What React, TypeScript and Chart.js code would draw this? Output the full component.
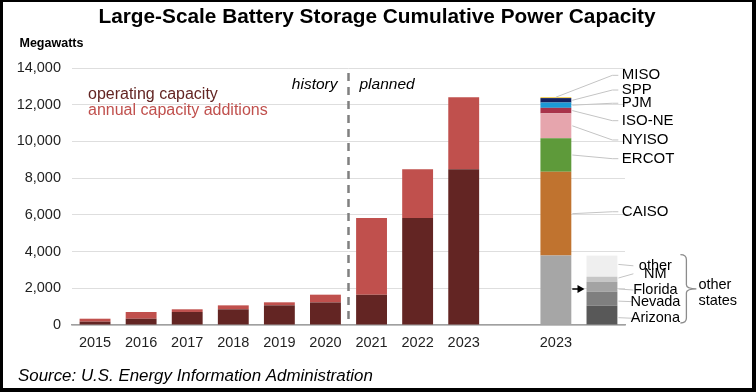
import React, { useEffect, useRef } from 'react';
import { Chart, registerables } from 'chart.js';

Chart.register(...registerables);

// ---------- data ----------
const categories = ['2015', '2016', '2017', '2018', '2019', '2020', '2021', '2022', '2023', '', '2023', ''];
const operatingCapacity = [180, 343, 710, 855, 1070, 1230, 1645, 5830, 8480];
const annualAdditions = [163, 365, 145, 215, 166, 422, 4185, 2650, 3920];

const regionNames = ['other states', 'CAISO', 'ERCOT', 'NYISO', 'ISO-NE', 'PJM', 'SPP', 'MISO'];
const regionValues = [3780, 4570, 1820, 1360, 300, 290, 240, 50];

const stateNames = ['Arizona', 'Nevada', 'Florida', 'NM', 'other'];
const stateValues = [1050, 765, 545, 270, 1150];

const yMax = 14000;
const yStep = 2000;

// ---------- styles ----------
const FONT = '"Liberation Sans", Arial, Helvetica, sans-serif';
const operatingColor = '#632523';
const additionsColor = '#c0504d';
const regionColors = ['#a6a6a6', '#c0732f', '#5e9a3a', '#e6a5ad', '#a8334a', '#1b9ad6', '#13205e', '#f2c93c'];
const stateColors = ['#585858', '#7f7f7f', '#a3a3a3', '#c6c6c6', '#efefef'];

const REGION_SLOT = 10;
const STATE_SLOT = 11;

// annotation layout (label anchor heights in MW)
const regionLabelLayout: Record<string, number> = {
  MISO: 13600, SPP: 12800, PJM: 12080, 'ISO-NE': 11130, NYISO: 10080, ERCOT: 9060, CAISO: 6170,
};
const stateLabelLayout: Record<string, [number, number]> = {
  other: [3300, 3225], NM: [2560, 2790], Florida: [1960, 1907], Nevada: [1300, 1269], Arizona: [400, 365],
};

const annotationPlugin = {
  id: 'annotations',
  afterDraw(chart: any) {
    const { ctx, scales, chartArea } = chart;
    const x = scales.x;
    const y = scales.y;
    ctx.save();

    // Title
    ctx.fillStyle = '#000';
    ctx.textAlign = 'center';
    ctx.textBaseline = 'alphabetic';
    ctx.font = `bold 20.8px ${FONT}`;
    ctx.fillText('Large-Scale Battery Storage Cumulative Power Capacity', 374, 20.5);

    // Unit label
    ctx.textAlign = 'left';
    ctx.font = `bold 12.5px ${FONT}`;
    ctx.fillText('Megawatts', 16.5, 45);

    // Legend text
    ctx.textBaseline = 'middle';
    ctx.font = `16px ${FONT}`;
    ctx.fillStyle = operatingColor;
    ctx.fillText('operating capacity', 85, 93);
    ctx.fillStyle = additionsColor;
    ctx.fillText('annual capacity additions', 85, 109);

    // history / planned divider
    const divX = (x.getPixelForValue(5) + x.getPixelForValue(6)) / 2;
    ctx.strokeStyle = '#808080';
    ctx.lineWidth = 2.5;
    ctx.setLineDash([8, 6]);
    ctx.beginPath();
    ctx.moveTo(divX, y.getPixelForValue(13730));
    ctx.lineTo(divX, chartArea.bottom);
    ctx.stroke();
    ctx.setLineDash([]);

    ctx.fillStyle = '#000';
    ctx.font = `italic 15.5px ${FONT}`;
    ctx.textBaseline = 'alphabetic';
    ctx.textAlign = 'right';
    ctx.fillText('history', divX - 11, 87);
    ctx.textAlign = 'left';
    ctx.fillText('planned', divX + 11, 87);

    // Region labels with leader lines
    const regionStart = 2;
    const bigEl = chart.getDatasetMeta(regionStart + 1).data[REGION_SLOT];
    const bigRight = bigEl.x + bigEl.width / 2;
    ctx.strokeStyle = '#c4c4c4';
    ctx.lineWidth = 1;
    ctx.font = `15px ${FONT}`;
    ctx.textBaseline = 'middle';
    ctx.textAlign = 'left';
    regionNames.forEach((name, r) => {
      const lv = regionLabelLayout[name];
      if (lv === undefined) return;
      const el = chart.getDatasetMeta(regionStart + r).data[REGION_SLOT];
      let sx: number, sy: number;
      if (name === 'MISO') {
        sx = el.x;
        sy = el.y;
      } else {
        sx = el.x + el.width / 2 + 1;
        sy = (el.y + el.base) / 2;
      }
      const ly = y.getPixelForValue(lv);
      ctx.beginPath();
      ctx.moveTo(sx, sy);
      ctx.lineTo(bigRight + 41, ly);
      ctx.lineTo(bigRight + 47, ly);
      ctx.stroke();
      ctx.fillStyle = '#000';
      ctx.fillText(name, bigRight + 50.5, ly);
    });

    // State labels
    const stateStart = regionStart + regionNames.length;
    const smallEl = chart.getDatasetMeta(stateStart).data[STATE_SLOT];
    const smallRight = smallEl.x + smallEl.width / 2;
    const smallLeft = smallEl.x - smallEl.width / 2;
    ctx.font = `14.5px ${FONT}`;
    ctx.textAlign = 'center';
    stateNames.forEach((name) => {
      const [av, lv] = stateLabelLayout[name];
      const ay = y.getPixelForValue(av);
      const ly = y.getPixelForValue(lv);
      ctx.beginPath();
      ctx.moveTo(smallRight + 1, ay);
      ctx.lineTo(smallRight + 16, ly);
      ctx.stroke();
      ctx.fillStyle = '#000';
      ctx.fillText(name, smallRight + 38, ly);
    });

    // Bracket
    const bTop = y.getPixelForValue(stateValues.reduce((a, b) => a + b, 0)) - 1;
    const bBot = y.getPixelForValue(0) - 2;
    const bMid = (bTop + bBot) / 2;
    const bx0 = smallRight + 63;
    const bx1 = smallRight + 69;
    const bTip = smallRight + 79;
    ctx.strokeStyle = '#8c8c8c';
    ctx.lineWidth = 1.3;
    ctx.beginPath();
    ctx.moveTo(bx0, bTop);
    ctx.quadraticCurveTo(bx1, bTop, bx1, bTop + 5);
    ctx.lineTo(bx1, bMid - 4);
    ctx.quadraticCurveTo(bx1, bMid, bTip, bMid);
    ctx.moveTo(bTip, bMid);
    ctx.quadraticCurveTo(bx1, bMid, bx1, bMid + 4);
    ctx.lineTo(bx1, bBot - 5);
    ctx.quadraticCurveTo(bx1, bBot, bx0, bBot);
    ctx.stroke();

    ctx.fillStyle = '#000';
    ctx.textAlign = 'left';
    ctx.font = `14.5px ${FONT}`;
    ctx.fillText('other', smallRight + 81, bMid - 4);
    ctx.fillText('states', smallRight + 81, bMid + 12);

    // Arrow
    const ay = y.getPixelForValue(1960);
    const ax0 = bigRight + 1;
    const ax1 = smallLeft - 2;
    ctx.strokeStyle = '#000';
    ctx.fillStyle = '#000';
    ctx.lineWidth = 1.5;
    ctx.beginPath();
    ctx.moveTo(ax0, ay);
    ctx.lineTo(ax1 - 5, ay);
    ctx.stroke();
    ctx.beginPath();
    ctx.moveTo(ax1, ay);
    ctx.lineTo(ax1 - 7, ay - 4);
    ctx.lineTo(ax1 - 7, ay + 4);
    ctx.closePath();
    ctx.fill();

    // Source
    ctx.textAlign = 'left';
    ctx.textBaseline = 'middle';
    ctx.font = `italic 16.9px ${FONT}`;
    ctx.fillStyle = '#000';
    ctx.fillText('Source: U.S. Energy Information Administration', 15, 374.5);

    ctx.restore();
  },
};

export default function App() {
  const canvasRef = useRef<HTMLCanvasElement | null>(null);

  useEffect(() => {
    document.body.style.margin = '0';
    const canvas = canvasRef.current;
    if (!canvas) return;

    const slotData = (slot: number, v: number) => categories.map((_, i) => (i === slot ? v : null));

    const datasets: any[] = [
      {
        label: 'operating capacity',
        data: categories.map((_, i) => (i < operatingCapacity.length ? operatingCapacity[i] : null)),
        backgroundColor: operatingColor,
      },
      {
        label: 'annual capacity additions',
        data: categories.map((_, i) => (i < annualAdditions.length ? annualAdditions[i] : null)),
        backgroundColor: additionsColor,
      },
      ...regionNames.map((name, r) => ({
        label: name,
        data: slotData(REGION_SLOT, regionValues[r]),
        backgroundColor: regionColors[r],
      })),
      ...stateNames.map((name, s) => ({
        label: name,
        data: slotData(STATE_SLOT, stateValues[s]),
        backgroundColor: stateColors[s],
      })),
    ].map((d) => ({ ...d, stack: 'all', borderWidth: 0, barPercentage: 0.67, categoryPercentage: 1 }));

    const chart = new Chart(canvas, {
      type: 'bar',
      data: { labels: categories, datasets },
      options: {
        responsive: false,
        animation: false,
        devicePixelRatio: 1,
        layout: { padding: { top: 66, right: 127, left: 0, bottom: 0 } },
        plugins: { legend: { display: false }, tooltip: { enabled: false }, title: { display: false } },
        scales: {
          x: {
            stacked: true,
            grid: { display: false, drawTicks: false },
            border: { display: true, color: '#a0a0a0', width: 1.5 },
            ticks: { color: '#1f1f1f', font: { family: FONT, size: 14.5 }, padding: 9, maxRotation: 0, autoSkip: false },
            afterFit: (s: any) => { s.height = 63; },
          },
          y: {
            stacked: true,
            min: 0,
            max: yMax,
            grid: { color: '#dedede', drawTicks: false, lineWidth: 1 },
            border: { display: false },
            ticks: {
              stepSize: yStep,
              color: '#1f1f1f',
              font: { family: FONT, size: 14.5 },
              padding: 11,
              callback: (v: any) => Number(v).toLocaleString('en-US'),
            },
            afterFit: (s: any) => { s.width = 69; },
          },
        },
      },
      plugins: [annotationPlugin],
    });

    return () => chart.destroy();
  }, []);

  return (
    <div
      style={{
        width: 756,
        height: 392,
        boxSizing: 'border-box',
        background: '#000',
        padding: '2px 4px 4px 3px',
      }}
    >
      <div style={{ width: 749, height: 386, background: '#fff' }}>
        <canvas ref={canvasRef} width={749} height={386} style={{ display: 'block' }} />
      </div>
    </div>
  );
}
